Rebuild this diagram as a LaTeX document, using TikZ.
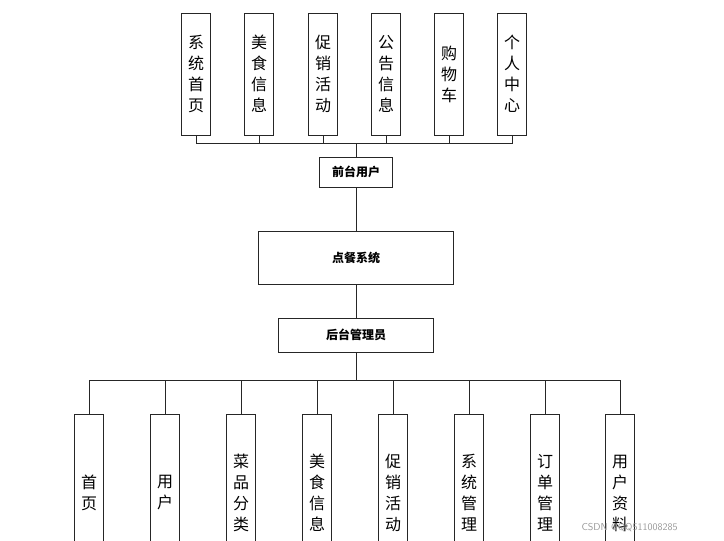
\documentclass[tikz,border=0pt]{standalone}
\usepackage{fontspec}
\newfontfamily\cjk{Noto Sans CJK SC}
\begin{document}
\begin{tikzpicture}[x=1pt,y=-1pt,
  vbox/.style={draw=black!85,line width=0.9pt,fill=white,minimum width=29pt,inner sep=0pt,anchor=north},
  vtxt/.style={font=\cjk\fontsize{16}{21}\selectfont,align=center,inner sep=0pt},
  hbox/.style={draw=black!85,line width=0.9pt,fill=white,font=\cjk\bfseries\fontsize{12}{14}\selectfont,inner sep=0pt},
  ln/.style={draw=black!85,line width=0.9pt}]
\clip (0,0) rectangle (724,541);
\fill[white] (0,0) rectangle (724,541);
% top
\foreach \x/\t/\n in {196/系\\统\\首\\页/t1,259/美\\食\\信\\息/t2,323/促\\销\\活\\动/t3,386/公\\告\\信\\息/t4,449/购\\物\\车/t5,512/个\\人\\中\\心/t6}{
  \node[vbox,minimum height=122pt] (\n) at (\x,13) {};
  \node[vtxt] at (\x,74) {\t};
}
\node[hbox,minimum width=73pt,minimum height=30pt] (fu) at (356,172) {前台用户};
\node[hbox,minimum width=195pt,minimum height=53pt] (sys) at (356,257.5) {点餐系统};
\node[hbox,minimum width=155pt,minimum height=34pt] (adm) at (356,335) {后台管理员};
\coordinate (tb) at (356,143);
\foreach \n in {t1,t2,t3,t4,t5,t6}{\draw[ln] (\n.south) |- (tb);}
\draw[ln] (tb) -- (fu.north);
\draw[ln] (fu.south) -- (sys.north);
\draw[ln] (sys.south) -- (adm.north);
\coordinate (bb) at (356,380);
\draw[ln] (adm.south) -- (bb);
\foreach \x/\t/\n in {89/首\\页/b1,165/用\\户/b2,241/菜\\品\\分\\类/b3,317/美\\食\\信\\息/b4,393/促\\销\\活\\动/b5,469/系\\统\\管\\理/b6,545/订\\单\\管\\理/b7,620/用\\户\\资\\料/b8}{
  \node[vbox,minimum height=160pt] (\n) at (\x,414) {};
  \node[vtxt] at (\x,493) {\t};
  \draw[ln] (\n.north) |- (bb);
}
\node[font=\sffamily\fontsize{10}{12}\selectfont,text=black!40,anchor=west] (wm) at (578,528) {CSDN @QQ511008285};
\end{tikzpicture}
\end{document}
